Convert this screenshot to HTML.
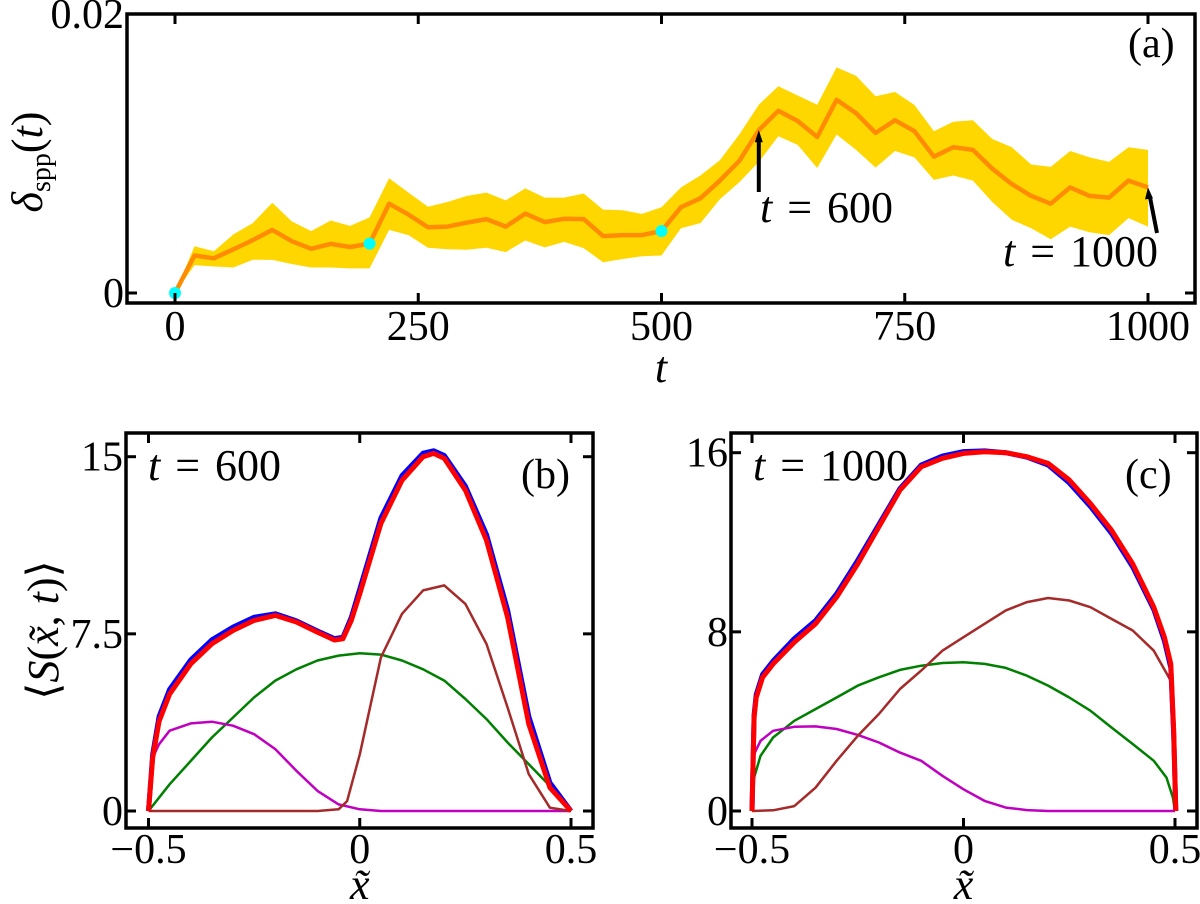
<!DOCTYPE html>
<html><head><meta charset="utf-8"><style>
html,body{margin:0;padding:0;background:#fff}
svg{display:block;font-family:"Liberation Serif","DejaVu Serif",serif}
</style></head><body>
<svg id="fig" width="1200" height="904" viewBox="0 0 1200 904" xmlns="http://www.w3.org/2000/svg"></svg>
<script>
// ---------- Panel (a) data ----------
const tA = [0,20,40,60,80,100,120,140,160,180,200,220,240,260,280,300,320,340,360,380,400,420,440,460,480,500,520,540,560,580,600,620,640,660,680,700,720,740,760,780,800,820,840,860,880,900,920,940,960,980,1000];
const meanA = [0,2.69,2.49,3.13,3.79,4.52,3.71,3.17,3.52,3.30,3.54,6.40,5.62,4.71,4.76,5.05,5.30,4.76,5.69,5.08,5.32,5.30,4.08,4.15,4.15,4.44,6.15,6.79,8.06,9.47,11.67,13.06,12.33,11.18,13.85,12.89,11.48,12.38,11.60,9.77,10.45,10.26,8.91,7.81,6.96,6.40,7.57,6.96,6.84,8.06,7.57].map(v=>v*1e-3);
const upperA = [0,3.35,3.00,4.20,5.01,6.47,5.13,4.44,5.20,4.81,5.42,8.23,7.20,6.18,6.52,6.96,7.20,6.64,7.50,6.84,6.84,7.13,5.98,5.93,5.67,6.15,7.57,8.42,9.52,11.36,13.50,14.82,14.16,13.50,16.17,15.56,14.11,14.41,13.48,11.60,12.28,12.38,11.04,10.45,9.21,9.04,10.18,9.72,9.40,10.45,10.26].map(v=>v*1e-3);
const lowerA = [0,2.00,1.90,1.83,2.39,2.37,2.08,1.83,1.83,1.76,1.76,4.52,4.15,3.25,3.13,3.10,3.25,2.93,3.76,3.27,3.66,3.22,2.20,2.44,2.64,2.69,4.64,5.01,6.72,7.94,9.40,11.23,10.62,8.96,11.36,10.26,8.99,10.18,9.72,8.11,8.42,8.06,6.52,5.25,4.64,3.86,4.76,4.35,4.15,5.37,4.76].map(v=>v*1e-3);
const dotsA = [0,200,500];
const xTicksA = [0,250,500,750,1000];
const xTickLabelsA = ["0","250","500","750","1000"];
const yTicksA = [0,0.02];
const yTickLabelsA = ["0","0.02"];

// ---------- Panel (b) data ----------
const bRedX = [-0.5,-0.49,-0.475,-0.45,-0.4,-0.35,-0.3,-0.25,-0.2,-0.15,-0.1,-0.06,-0.04,-0.02,0,0.05,0.1,0.15,0.175,0.2,0.25,0.3,0.35,0.4,0.45,0.5];
const bRedY = [0,2.26,3.8,4.95,6.23,7.08,7.64,8.07,8.28,8.0,7.57,7.24,7.29,8.07,9.2,12.17,14.0,15.0,15.14,14.93,13.58,11.46,8.2,3.68,0.99,0];
const bBlueY = [0,2.4,4.0,5.15,6.4,7.25,7.78,8.2,8.35,8.05,7.62,7.3,7.35,8.2,9.4,12.4,14.2,15.15,15.25,15.05,13.75,11.7,8.5,4.0,1.2,0];
const bGreenX = [-0.5,-0.45,-0.4,-0.35,-0.3,-0.25,-0.2,-0.15,-0.1,-0.05,0,0.05,0.1,0.15,0.2,0.25,0.3,0.35,0.4,0.45,0.5];
const bGreenY = [0,1.13,2.12,3.11,3.96,4.81,5.52,6.0,6.37,6.58,6.68,6.62,6.37,6.0,5.52,4.74,3.89,2.9,1.98,1.06,0];
const bMagX = [-0.5,-0.49,-0.475,-0.45,-0.4,-0.35,-0.3,-0.25,-0.2,-0.15,-0.1,-0.05,0,0.05,0.5];
const bMagY = [0,2.26,2.83,3.4,3.71,3.78,3.61,3.25,2.62,1.70,0.85,0.28,0.07,0,0];
const bBrownX = [-0.5,-0.1,-0.05,-0.03,0,0.05,0.1,0.15,0.2,0.25,0.3,0.35,0.4,0.45,0.5];
const bBrownY = [0,0,0.07,0.42,2.4,6.5,8.35,9.34,9.55,8.77,7.07,4.38,1.56,0.14,0];
const yTicksB = [0,7.5,15];
const yTickLabelsB = ["0","7.5","15"];

// ---------- Panel (c) data ----------
const cRedX = [-0.5,-0.495,-0.49,-0.475,-0.45,-0.4,-0.35,-0.3,-0.25,-0.2,-0.15,-0.1,-0.05,0,0.05,0.1,0.15,0.2,0.25,0.3,0.35,0.4,0.45,0.475,0.49,0.497,0.502];
const cRedY = [0,4.18,5.07,5.97,6.57,7.54,8.36,9.55,11.04,12.69,14.33,15.37,15.75,15.97,16.04,16.0,15.82,15.52,14.78,13.73,12.54,11.04,9.1,7.76,6.57,3.58,0];
const cBlueY = [0,4.3,5.2,6.1,6.7,7.7,8.5,9.7,11.2,12.8,14.4,15.45,15.85,16.05,16.08,16.0,15.8,15.45,14.65,13.6,12.4,10.9,9.0,7.6,6.4,3.4,0];
const cGreenX = [-0.5,-0.495,-0.48,-0.45,-0.4,-0.35,-0.3,-0.25,-0.2,-0.15,-0.1,-0.05,0,0.05,0.1,0.15,0.2,0.25,0.3,0.35,0.4,0.45,0.48,0.495,0.5];
const cGreenY = [0,1.49,2.46,3.28,4.03,4.55,5.07,5.6,5.97,6.3,6.49,6.61,6.64,6.57,6.39,6.04,5.6,5.07,4.48,3.73,2.99,2.24,1.49,0.6,0];
const cMagX = [-0.5,-0.495,-0.48,-0.45,-0.4,-0.35,-0.3,-0.25,-0.2,-0.15,-0.1,-0.05,0,0.05,0.1,0.15,0.2,0.5];
const cMagY = [0,2.54,3.13,3.58,3.76,3.78,3.66,3.4,3.06,2.61,2.24,1.57,0.97,0.45,0.15,0.04,0,0];
const cBrownX = [-0.5,-0.45,-0.4,-0.35,-0.3,-0.25,-0.2,-0.15,-0.1,-0.05,0,0.05,0.1,0.15,0.2,0.25,0.3,0.35,0.4,0.45,0.49,0.497,0.5];
const cBrownY = [0,0.03,0.22,1.04,2.24,3.36,4.33,5.45,6.27,7.16,7.76,8.36,8.96,9.33,9.51,9.4,9.1,8.58,8.06,7.16,5.82,2.1,0];
const yTicksC = [0,8,16];
const yTickLabelsC = ["0","8","16"];
const xTicksBC = [-0.5,0,0.5];
const xTickLabelsBC = ["\u22120.5","0","0.5"];

const NS="http://www.w3.org/2000/svg";
const svg=document.getElementById('fig');
const FS=42;
function mk(tag,attrs,parent){const e=document.createElementNS(NS,tag);for(const k in attrs)e.setAttribute(k,attrs[k]);(parent||svg).appendChild(e);return e;}
function lin(d0,d1,r0,r1){return v=>r0+(v-d0)*(r1-r0)/(d1-d0);}
function pathD(xs,ys,fx,fy){return xs.map((x,i)=>(i?'L':'M')+fx(x).toFixed(1)+','+fy(ys[i]).toFixed(1)).join('');}

function frame(g,L,T,R,B,xt,xl,fx,yt,yl,fy,lblY){
  xt.forEach((v,i)=>{
    const x=fx(v);
    const t1=mk('line',{x1:x,y1:B,x2:x,y2:B-10,stroke:'#000','stroke-width':3},g);
    
    
    const t2=mk('line',{x1:x,y1:T,x2:x,y2:T+10,stroke:'#000','stroke-width':3},g);
    
    
    const tx=mk('text',{x:x,y:lblY,'text-anchor':'middle','font-size':FS},g);
    tx.textContent=xl[i];
    
    
  });
  yt.forEach((v,i)=>{
    const y=fy(v);
    const t1=mk('line',{x1:L,y1:y,x2:L+10,y2:y,stroke:'#000','stroke-width':3},g);
    
    
    const t2=mk('line',{x1:R,y1:y,x2:R-10,y2:y,stroke:'#000','stroke-width':3},g);
    
    
    const tx=mk('text',{x:L-3,y:y+14,'text-anchor':'end','font-size':FS},g);
    tx.textContent=yl[i];
    
    
  });
  const r=mk('rect',{x:L,y:T,width:R-L,height:B-T,fill:'none',stroke:'#000','stroke-width':3.5},g);
  
  
}

// ===== Panel (a) =====
{
  const g=mk('g',{});
  
  
  const L=127,T=14,R=1195,B=303;
  const fx=lin(0,1000,175,1148), fy=lin(0,0.02,293,14);
  const band=mk('path',{d:pathD(tA,upperA,fx,fy)+pathD(tA.slice().reverse(),lowerA.slice().reverse(),fx,fy).replace('M','L')+'Z',fill:'#ffd700',stroke:'none'},g);
  
  
  const ln=mk('path',{d:pathD(tA,meanA,fx,fy),fill:'none',stroke:'#ff8c00','stroke-width':4.5,'stroke-linejoin':'round'},g);
  
  
  dotsA.forEach(t=>{
    const i=tA.indexOf(t);
    const c=mk('circle',{cx:fx(t),cy:fy(meanA[i]),r:6,fill:'#00ffff'},g);
    
    
  });
  frame(g,L,T,R,B,xTicksA,xTickLabelsA,fx,yTicksA,yTickLabelsA,fy,340);
  const i6=tA.indexOf(600), i10=tA.indexOf(1000);
  const a1x=fx(600), a1y=fy(meanA[i6]);
  const a1=mk('line',{x1:a1x,y1:192,x2:a1x,y2:a1y+10,stroke:'#000','stroke-width':4},g);
  
  
  mk('path',{d:`M${a1x-4},${a1y+12}L${a1x},${a1y}L${a1x+4},${a1y+12}Z`,fill:'#000'},g);
  const a2x=fx(1000), a2y=fy(meanA[i10]);
  const a2=mk('line',{x1:1157,y1:233,x2:a2x+2,y2:a2y+10,stroke:'#000','stroke-width':4},g);
  
  
  mk('path',{d:`M${a2x-3},${a2y+12}L${a2x},${a2y}L${a2x+5},${a2y+11}Z`,fill:'#000'},g);
}
</script>
<script>
{
const g=svg;
function T(x,y,s,txt,extra){const e=document.createElementNS(NS,'text');e.setAttribute('x',x);e.setAttribute('y',y);e.setAttribute('font-size',s);if(extra)for(const k in extra)e.setAttribute(k,extra[k]);e.innerHTML=txt;g.appendChild(e);return e;}
let e;
e=T(760,222,44,'<tspan font-style="italic">t</tspan> = 600',{'word-spacing':'4'});


e=T(1003,266,44,'<tspan font-style="italic">t</tspan> = 1000',{'word-spacing':'4'});


e=T(1128,57,42,'(a)');


e=T(661,382,44,'t',{'text-anchor':'middle','font-style':'italic'});


e=T(0,0,44,'<tspan font-style="italic">δ</tspan><tspan font-size="28" dy="8">spp</tspan><tspan dy="-8">(</tspan><tspan font-style="italic">t</tspan>)',{transform:'translate(42,162) rotate(-90)','text-anchor':'middle'});


}
</script>
<script>
function panel(name,L,R,xm,x0,xp,yTop,yMax,yt,yl,series,label,tlabel){
  const g=mk('g',{});
  
  
  const T=433,B=828;
  const fx=lin(-0.5,0.5,xm,xp), fy=lin(0,yMax,811,yTop);
  series.forEach(s=>{
    const p=mk('path',{d:pathD(s.x,s.y,fx,fy),fill:'none',stroke:s.c,'stroke-width':s.w,'stroke-linejoin':'round'},g);
    
    
  });
  frame(g,L,T,R,B,xTicksBC,xTickLabelsBC,fx,yt,yl,fy,863);
  let e=mk('text',{x:L+22,y:480,'font-size':44,'word-spacing':4},g);
  e.innerHTML='<tspan font-style="italic">t</tspan> = '+tlabel;
  
  
  e=mk('text',{x:R-72,y:488,'font-size':42},g);
  e.textContent=label;
  
  
  e=mk('text',{x:fx(0),y:899,'font-size':44,'font-style':'italic','text-anchor':'middle'},g);
  e.textContent='x\u0303';
  
  
}
panel('panel-b',126,593,148.5,360,571,456.7,15,yTicksB,yTickLabelsB,[
  {x:bGreenX,y:bGreenY,c:'#008000',w:2.5,n:'green-curve'},
  {x:bMagX,y:bMagY,c:'#c000c0',w:2.5,n:'magenta-curve'},
  {x:bBrownX,y:bBrownY,c:'#a52a2a',w:2.5,n:'brown-curve'},
  {x:bRedX,y:bBlueY,c:'#0000ff',w:5,n:'blue-curve'},
  {x:bRedX,y:bRedY,c:'#ff0000',w:5,n:'red-curve'}],'(b)','600');
panel('panel-c',731,1197,752,964,1175,452.7,16,yTicksC,yTickLabelsC,[
  {x:cGreenX,y:cGreenY,c:'#008000',w:2.5,n:'green-curve'},
  {x:cMagX,y:cMagY,c:'#c000c0',w:2.5,n:'magenta-curve'},
  {x:cBrownX,y:cBrownY,c:'#a52a2a',w:2.5,n:'brown-curve'},
  {x:cRedX,y:cBlueY,c:'#0000ff',w:5,n:'blue-curve'},
  {x:cRedX,y:cRedY,c:'#ff0000',w:5,n:'red-curve'}],'(c)','1000');
{
  const e=mk('text',{transform:'translate(58,630) rotate(-90)','font-size':44,'text-anchor':'middle'});
  e.innerHTML='⟨<tspan font-style="italic">S</tspan>(<tspan font-style="italic">x\u0303</tspan>, <tspan font-style="italic">t</tspan>)⟩';
  
  
}
</script>
</body></html>
